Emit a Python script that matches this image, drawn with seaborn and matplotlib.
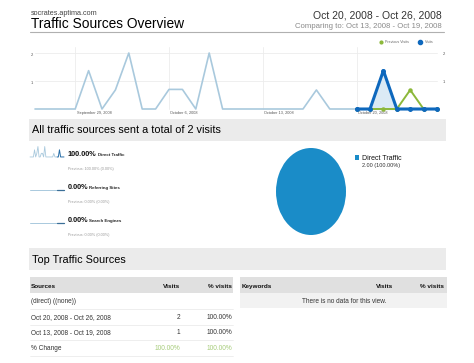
import numpy as np
import pandas as pd
import matplotlib
matplotlib.use("Agg")
import matplotlib.pyplot as plt
from matplotlib.patches import Rectangle
import seaborn as sns

sns.set_style("white")
plt.rcParams['font.family'] = ['Liberation Sans', 'DejaVu Sans']

# ---- data ----
days = pd.date_range("2008-09-26", "2008-10-26", freq="D")
# light history line, Sep 26 - Oct 20
hist_visits = [0, 0, 0, 0, 1.37, 0, 0.68, 2, 0, 0, 0.7, 0.7, 0, 2,
               0, 0, 0, 0, 0, 0, 0, 0.68, 0, 0, 0]
# selected week, Oct 20 - Oct 26
week_visits = [0, 0, 1.37, 0, 0, 0, 0]
week_previous = [0, 0, 0, 0, 0.68, 0, 0]
referring_visits = [0, 0, 0, 0, 0, 0, 0, 0, 0, 0, 0, 0, 0, 0, 0, 0,
                    0, 0, 0, 0, 0, 0, 0, 0, 0, 0, 0, 0, 0, 0, 0]
search_visits = [0, 0, 0, 0, 0, 0, 0, 0, 0, 0, 0, 0, 0, 0, 0, 0,
                 0, 0, 0, 0, 0, 0, 0, 0, 0, 0, 0, 0, 0, 0, 0]

tick_idx = [3, 10, 17, 24]
tick_labels = ["September 29, 2008", "October 6, 2008", "October 13, 2008", "October 20, 2008"]

spark_pcts = ["100.00%", "0.00%", "0.00%"]
spark_names = ["Direct Traffic", "Referring Sites", "Search Engines"]
spark_prev = ["Previous: 100.00% (0.00%)", "Previous: 0.00% (0.00%)", "Previous: 0.00% (0.00%)"]

pie_labels = ["Direct Traffic"]
pie_values = [2.00]

source_rows = ["(direct) ((none))", "Oct 20, 2008 - Oct 26, 2008", "Oct 13, 2008 - Oct 19, 2008", "% Change"]
source_visits = ["", "2", "1", "100.00%"]
source_pct = ["", "100.00%", "100.00%", "100.00%"]

LIGHT = "#a9c9dd"
BLUE = "#0e68bd"
GREEN = "#8cb83a"
PIE = "#1a8cc8"

W, H = 474, 363
fig = plt.figure(figsize=(W / 100, H / 100), dpi=100)


def box(x0, y0, x1, y1):
    return [x0 / W, 1 - y1 / H, (x1 - x0) / W, (y1 - y0) / H]


# overlay axes in pixel coordinates for text and panels
bg = fig.add_axes([0, 0, 1, 1], zorder=0)
bg.set_xlim(0, W)
bg.set_ylim(H, 0)
bg.axis("off")


def txt(x, y, s, size, **kw):
    kw.setdefault("va", "baseline")
    kw.setdefault("color", "#222222")
    bg.text(x, y, s, fontsize=size, **kw)


# header
txt(31, 15, "socrates.aptima.com", 5.2, color="#444444")
txt(31, 28, "Traffic Sources Overview", 9.9, color="black")
bg.plot([30, 444], [31.5, 31.5], color="#b0b0b0", lw=0.8)
txt(442, 19, "Oct 20, 2008 - Oct 26, 2008", 7.5, ha="right", color="#333333")
txt(442, 27.5, "Comparing to: Oct 13, 2008 - Oct 19, 2008", 5.6, ha="right", color="#8a8a8a")

# legend of the line chart
bg.plot([381], [42], "o", color=GREEN, ms=2)
txt(385, 42, "Previous Visits", 2.6, va="center", color="#666666")
bg.plot([420], [42], "o", color=BLUE, ms=3)
txt(425, 42, "Visits", 2.6, va="center", color="#666666")

# ---- main line chart ----
ax = fig.add_axes(box(35, 47, 437, 111), zorder=1)
ax.patch.set_alpha(0)
for sp in ax.spines.values():
    sp.set_visible(False)
ax.set_xlim(0, 30)
ax.set_ylim(-2 / 28, 62 / 28)
ax.set_xticks([])
ax.set_yticks([])
for yv in [1, 2]:
    ax.axhline(yv, color="#ececec", lw=0.6, zorder=0)
for xi in tick_idx:
    ax.plot([xi, xi], [0, 2.2], color="#ececec", lw=0.6, zorder=0)

x_all = np.arange(len(days))
sns.lineplot(x=x_all[:25], y=hist_visits, ax=ax, color=LIGHT, lw=1.2, zorder=2)
x_week = x_all[24:]
ax.fill_between(x_week, week_visits, color="#dbeaf5", zorder=1)
sns.lineplot(x=x_week, y=week_previous, ax=ax, color=GREEN, lw=1.4, marker="o",
             markersize=3.2, markeredgewidth=0, zorder=3)
sns.lineplot(x=x_week, y=week_visits, ax=ax, color=BLUE, lw=2.2, marker="o",
             markersize=3.6, markeredgewidth=0, zorder=4)
for ln in ax.lines:
    ln.set_clip_on(False)

for yv, yp in [(2, 55), (1, 83)]:
    txt(32, yp, str(yv), 3, va="center", ha="center", color="#555555")
    txt(444, yp - 1, str(yv), 3, va="center", ha="center", color="#555555")
for xi, lab in zip(tick_idx, tick_labels):
    txt(35 + 13.4 * xi + 1.5, 113, lab, 2.8, va="center", color="#555555")

# ---- section: all traffic sources ----
bg.add_patch(Rectangle((29, 119), 417, 22, color="#ebebeb", lw=0))
txt(32, 133, "All traffic sources sent a total of 2 visits", 7.8, color="black")

spark_y = [156, 189, 222]
spark_series = [None, referring_visits, search_visits]
for i in range(3):
    y = spark_y[i]
    sax = fig.add_axes(box(30, y - 10, 64, y + 2), zorder=1)
    sax.axis("off")
    sax.set_xlim(0, 30)
    if spark_series[i] is None:
        sax.set_ylim(-0.2, 2.1)
        sns.lineplot(x=x_all[:25], y=hist_visits, ax=sax, color=LIGHT, lw=0.6)
        sns.lineplot(x=x_week, y=week_visits, ax=sax, color="#2a6fa8", lw=0.7)
    else:
        sax.set_ylim(-0.2, 2.1)
        vals = spark_series[i]
        sns.lineplot(x=x_all[:25], y=vals[:25], ax=sax, color=LIGHT, lw=0.7)
        sns.lineplot(x=x_week, y=vals[24:], ax=sax, color="#3a6f98", lw=0.9)
    for ln in sax.lines:
        ln.set_clip_on(False)
    txt(68, y, spark_pcts[i], 5.3, fontweight="bold", color="#111111")
    name_x = 98 if i == 0 else 89
    txt(name_x, y, spark_names[i], 3.2, fontweight="bold", color="#222222")
    txt(68, y + 14, spark_prev[i], 2.7, color="#999999")

# pie
pax = fig.add_axes(box(276, 148, 346, 235), zorder=1)
pax.pie(pie_values, colors=[PIE], startangle=90, wedgeprops=dict(lw=0))
pax.set_aspect("auto")
pax.set_xlim(-1, 1)
pax.set_ylim(-1, 1)
bg.add_patch(Rectangle((355, 155), 4.5, 4.5, color=PIE, lw=0))
txt(362, 159.5, pie_labels[0], 5, color="#111111")
txt(362, 167, "%.2f (100.00%%)" % pie_values[0], 4, color="#333333")

# ---- section: top traffic sources ----
bg.add_patch(Rectangle((29, 248), 417, 22, color="#ebebeb", lw=0))
txt(32, 263, "Top Traffic Sources", 7.8, color="black")

# left table
bg.add_patch(Rectangle((30, 277), 203, 16, color="#e0e0e0", lw=0))
txt(31, 288, "Sources", 4.6, fontweight="bold", color="#111111")
txt(180, 288, "Visits", 4.6, fontweight="bold", ha="right", color="#111111")
txt(232, 288, "% visits", 4.6, fontweight="bold", ha="right", color="#111111")
row_y = [303, 319, 334, 350]
for i, (name, v, p) in enumerate(zip(source_rows, source_visits, source_pct)):
    y = row_y[i]
    txt(31, y, name, 4.7, color="#333333")
    col = "#a6cc7a" if name == "% Change" else "#333333"
    txt(180, y, v, 4.7, ha="right", color=col)
    txt(232, y, p, 4.7, ha="right", color=col)
    bg.plot([30, 233], [y + 6, y + 6], color="#e8e8e8", lw=0.5)

# right table
bg.add_patch(Rectangle((240, 277), 207, 16, color="#e0e0e0", lw=0))
txt(242, 288, "Keywords", 4.6, fontweight="bold", color="#111111")
txt(393, 288, "Visits", 4.6, fontweight="bold", ha="right", color="#111111")
txt(444, 288, "% visits", 4.6, fontweight="bold", ha="right", color="#111111")
bg.add_patch(Rectangle((240, 293), 207, 15, color="#f2f2f2", lw=0))
txt(344, 303, "There is no data for this view.", 4.7, ha="center", color="#333333")

fig.savefig("out.png", dpi=100)
